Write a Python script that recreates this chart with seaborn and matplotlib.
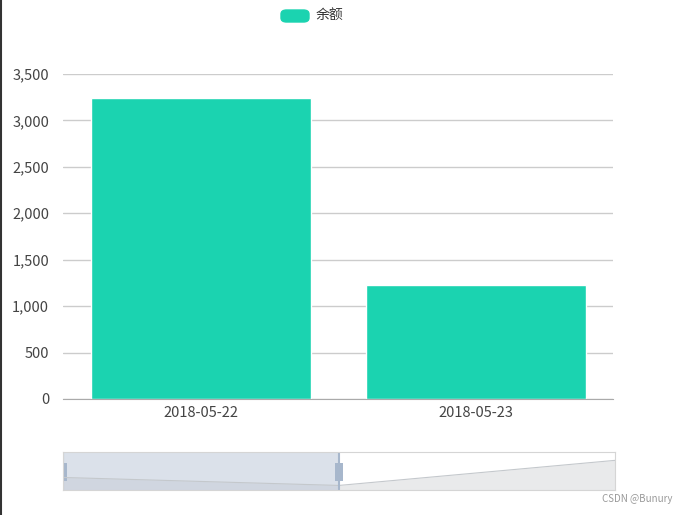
import matplotlib
matplotlib.use("Agg")
import matplotlib.pyplot as plt
import seaborn as sns
import pandas as pd
from matplotlib.patches import FancyBboxPatch, Rectangle

categories = ["2018-05-22", "2018-05-23"]
values = [3240, 1230]
series_name = "余额"
color = "#1bd3b0"

sns.set_style("white")
plt.rcParams['font.family'] = ['Noto Sans CJK SC', 'DejaVu Sans']

fig = plt.figure(figsize=(6.88, 5.15), dpi=100)
ax = fig.add_axes([63/688, 116/515, 550/688, 325/515])
df = pd.DataFrame({"date": categories, "v": values})
sns.barplot(data=df, x="date", y="v", color=color, saturation=1, width=0.8, ax=ax)
ax.set_ylim(0, 3500)
ax.set_yticks(range(0, 3501, 500))
ax.set_yticklabels([f"{t:,}" for t in range(0, 3501, 500)])
ax.set_xlabel(""); ax.set_ylabel("")
ax.grid(axis="y", color="#cccccc", lw=1)
ax.set_axisbelow(True)
for s in ["top", "right", "left"]:
    ax.spines[s].set_visible(False)
ax.spines["bottom"].set_color("#aaaaaa")
ax.tick_params(axis="y", length=0, labelsize=10.5, colors="#444444", pad=10)
ax.tick_params(axis="x", length=0, labelsize=10.5, colors="#444444", pad=5)
ax.set_xlim(-0.5, 1.5)

# legend
fig.patches.append(FancyBboxPatch((281/688, 498/515 - 5/515), 28/688, 12/515,
                                  boxstyle="round,pad=0,rounding_size=0.008",
                                  transform=fig.transFigure, color=color))
fig.text(316/688, 500/515, series_name, fontsize=10, color="#333333", va="center")

# datazoom slider
sax = fig.add_axes([63/688, 25/515, 552/688, 38/515])
sax.set_xlim(0, 1); sax.set_ylim(0, 1)
sax.set_xticks([]); sax.set_yticks([])
for s in sax.spines.values():
    s.set_color("#d5d5d5")
xs = [0, 0.5, 1]
shadow = [0.33, 0.12, 0.78]
sax.fill_between(xs, shadow, 0, color="#e4e5e7", alpha=0.8, lw=0)
sax.plot(xs, shadow, color="#c4c8cc", lw=0.8)
sax.add_patch(Rectangle((0, 0), 0.5, 1, color="#b8c4d6", alpha=0.5, lw=0))
for hx in [0, 0.5]:
    sax.plot([hx, hx], [0, 1], color="#a7b7cc", lw=1.5)
    sax.add_patch(Rectangle((hx - 0.007, 0.25), 0.014, 0.45, color="#a7b7cc", lw=0))

fig.text(672/688, 16/515, "CSDN @Bunury", fontsize=7, color="#999999", ha="right", va="center")
fig.add_artist(plt.Line2D([1/688, 1/688], [0, 1], transform=fig.transFigure, color="#333333", lw=1.5))

fig.savefig("out.png", dpi=100)
